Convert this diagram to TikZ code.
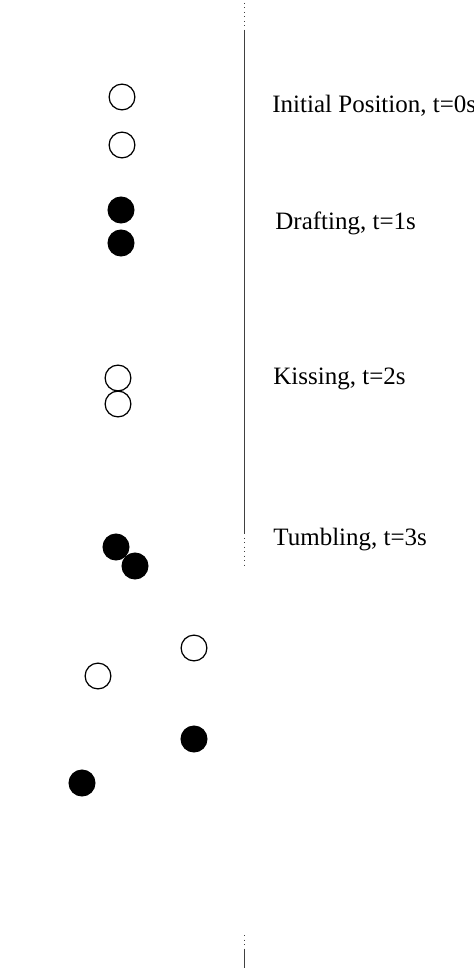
\documentclass[tikz,border=0pt]{standalone}
\usepackage{fontspec}
\setmainfont{Liberation Serif}
\tikzset{
    ball/.style={circle, draw, line width=.6pt, minimum size=12.9pt, inner sep=0pt},
    open ball/.style={ball, fill=white},
    full ball/.style={ball, fill=black},
    stage/.style={anchor=base west, inner sep=0pt, font=\fontsize{12.5}{15}\selectfont},
    rule/.style={line width=.4pt, black!75}
}

\begin{document}
\begin{tikzpicture}[x=0.5pt, y=-0.5pt]
  \useasboundingbox (0,0) rectangle (474,968);

  % separating line
  \coordinate (top) at (244,3);
  \coordinate (t1) at (244,30);
  \coordinate (t2) at (244,533);
  \coordinate (t3) at (244,567);
  \coordinate (b1) at (244,935);
  \coordinate (b2) at (244,950);
  \coordinate (bot) at (244,968);
  \draw[rule, line width=.25pt, dotted] (top) -- (t1);
  \draw[rule] (t1) -- (t2);
  \draw[rule, line width=.25pt, dotted] (t2) -- (t3);
  \draw[rule, line width=.25pt, dotted] (b1) -- (b2);
  \draw[rule] (b2) -- (bot);

  % initial position
  \node (i1) [open ball] at (122,97) {};
  \node (i2) [open ball] at (122,145) {};
  \node (li) [stage] at (272,113) {Initial Position, t=0s};

  % drafting
  \node (d1) [full ball] at (121,210) {};
  \node (d2) [full ball] at (121,243) {};
  \node (ld) [stage] at (275,229) {Drafting, t=1s};

  % kissing
  \node (k1) [open ball] at (118,378) {};
  \node (k2) [open ball] at (118,404) {};
  \node (lk) [stage] at (273,384) {Kissing, t=2s};

  % tumbling
  \node (u1) [full ball] at (116,547) {};
  \node (u2) [full ball] at (135,566) {};
  \node (lu) [stage] at (273,545) {Tumbling, t=3s};

  % after tumbling
  \node (a1) [open ball] at (194,648) {};
  \node (a2) [open ball] at (98,676) {};
  \node (a3) [full ball] at (194,739) {};
  \node (a4) [full ball] at (82,783) {};

\end{tikzpicture}
\end{document}
